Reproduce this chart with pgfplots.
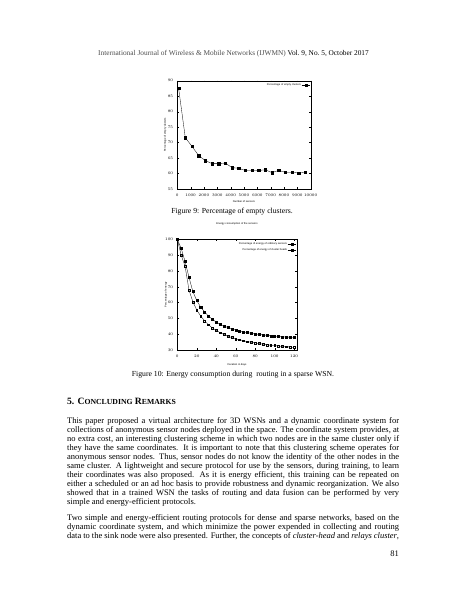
\documentclass[border=0pt]{standalone}
\usepackage{fontspec}
\setmainfont{Liberation Serif}
\newfontfamily\plotfont{Liberation Sans}
\usepackage{pgfplots}
\pgfplotsset{compat=1.18}

\newcommand\gp{\plotfont\fontsize{3.4}{4}\selectfont}
\pgfplotsset{
  gnu/.style={
    scale only axis,
    axis line style={line width=0.3pt},
    tick style={line width=0.3pt, black},
    major tick length=2bp,
    tick align=inside,
    font=\gp,
    ticklabel style={font=\gp},
    label style={font=\gp},
    xticklabel style={yshift=-2.5bp},
    yticklabel style={xshift=-2bp},
    legend style={draw=none, fill=none, font=\gp,
      at={(1,1)}, anchor=north east, inner sep=0pt,
      nodes={inner sep=0.6bp}, row sep=3.6bp, yshift=-3bp},
    legend plot pos=right,
    legend cell align=right,
    legend image code/.code={%
      \draw[mark repeat=2, mark phase=2, ##1]
        plot coordinates {(0cm,0cm) (0.2cm,0cm) (0.4cm,0cm)};},
    /pgf/number format/1000 sep={},
    scaled x ticks=false,
    every axis plot/.append style={line width=0.4pt, black},
  }
}

% one justified line of body text at a given baseline (px)
\newcommand\jline[2]{\node[anchor=base west, inner sep=0] at (67,#1)
  {\makebox[428.6bp][s]{#2}};}
\newcommand\lline[2]{\node[anchor=base west, inner sep=0] at (67,#1) {#2};}

\begin{document}
\begin{tikzpicture}
\begin{scope}[x=1.2911bp, y=-1.2911bp]
  \fill[white] (0,0) rectangle (474,613);
  \node[anchor=base, inner sep=0] at (233.5,55.5)
    {\fontsize{9.5}{11}\selectfont\color{black!70}International Journal of Wireless \& Mobile Networks (IJWMN) \color{black}Vol.~9, No.~5, October 2017};
  \node[anchor=base, inner sep=0] at (232,213)
    {\fontsize{10}{12}\selectfont Figure 9: Percentage of empty clusters.};
  \node[anchor=base, inner sep=0] at (233,376)
    {\fontsize{10}{12}\selectfont Figure 10: Energy consumption during\ \ routing in a sparse WSN.};
  \node[anchor=base west, inner sep=0] at (67,404)
    {\bfseries\fontsize{12.5}{14}\selectfont 5. C{\fontsize{10}{14}\selectfont ONCLUDING} R{\fontsize{10}{14}\selectfont EMARKS}};
  \begin{scope}[font=\fontsize{11}{12.5}\selectfont]
  \jline{423.0}{This paper proposed a virtual architecture for 3D WSNs and a dynamic coordinate system for}
  \jline{432.1}{collections of anonymous sensor nodes deployed in the space. The coordinate system provides, at}
  \jline{441.2}{no extra cost, an interesting clustering scheme in which two nodes are in the same cluster only if}
  \jline{450.3}{they have the same coordinates. It is important to note that this clustering scheme operates for}
  \jline{459.4}{anonymous sensor nodes. Thus, sensor nodes do not know the identity of the other nodes in the}
  \jline{468.5}{same cluster. A lightweight and secure protocol for use by the sensors, during training, to learn}
  \jline{477.6}{their coordinates was also proposed. As it is energy efficient, this training can be repeated on}
  \jline{486.7}{either a scheduled or an ad hoc basis to provide robustness and dynamic reorganization. We also}
  \jline{495.8}{showed that in a trained WSN the tasks of routing and data fusion can be performed by very}
  \lline{504.9}{simple and energy-efficient protocols.}
  \jline{520.4}{Two simple and energy-efficient routing protocols for dense and sparse networks, based on the}
  \jline{529.5}{dynamic coordinate system, and which minimize the power expended in collecting and routing}
  \jline{538.6}{data to the sink node were also presented. Further, the concepts of \textit{cluster-head} and \textit{relays cluster},}
  \end{scope}
  \node[anchor=base east, inner sep=0] at (399,556) {\fontsize{11}{12}\selectfont 81};
\end{scope}

\begin{axis}[gnu,
  at={(228.9bp,-244.0bp)}, anchor=south west,
  width=172.2bp, height=139.8bp,
  xmin=0, xmax=10000, ymin=55, ymax=90,
  xtick={0,1000,...,10000}, ytick={55,60,...,90},
  xlabel={Number of sensors},
  ylabel={Percentage of empty clusters},
  xlabel style={at={(axis description cs:0.5,-0.12)}, anchor=center},
  ylabel style={at={(axis description cs:-0.09,0.5)}, anchor=center},
]
\addplot[mark=square*, mark size=1.5bp] coordinates {
  (100,87.5) (600,71.6) (1100,68.8) (1600,65.8) (2100,64.2)
  (2600,63.2) (3100,63.2) (3600,63.4) (4100,61.9) (4600,61.7)
  (5100,61.0) (5600,61.1) (6100,61.0) (6600,61.2) (7100,60.3)
  (7600,61.0) (8100,60.4) (8600,60.4) (9100,60.2) (9600,60.5)};
\addlegendentry{Percentage of empty clusters}
\end{axis}

\begin{axis}[gnu,
  at={(228.9bp,-451.9bp)}, anchor=south west,
  width=154.2bp, height=142.9bp,
  xmin=0, xmax=122.7, ymin=30, ymax=100,
  xtick={0,20,...,120}, ytick={30,40,...,100},
  title={Energy consumption of the sensors},
  title style={font=\gp, at={(axis description cs:0.5,1)}, anchor=south, yshift=9bp},
  xlabel={Duration in days},
  ylabel={Percentage of energy},
  xlabel style={at={(axis description cs:0.5,-0.13)}, anchor=center},
  ylabel style={at={(axis description cs:-0.095,0.5)}, anchor=center},
]
\addplot[mark=square*, mark size=1.3bp] coordinates {
  (0,100) (4,94.3) (8,86) (12,76) (16,67) (20,61.3) (24,57.2) (28,54.1)
  (32,51.5) (36,49.4) (40,47.7) (44,46.2) (48,45.2) (52,44.2) (56,43.4)
  (60,42.7) (64,42.0) (68,41.5) (72,41.0) (76,40.6) (80,40.2) (84,39.9)
  (88,39.6) (92,39.3) (96,39.0) (100,38.8) (104,38.6) (108,38.4)
  (112,38.2) (116,38.1) (120,38.0)};
\addlegendentry{Percentage of energy of ordinary sensors}
\addplot[mark=square, mark size=1.2bp, mark options={line width=0.5pt}] coordinates {
  (0,100) (4,90) (8,83) (12,68) (16,60.5) (20,55.3) (24,51.5) (28,48.5)
  (32,46) (36,44) (40,42.4) (44,41) (48,39.8) (52,38.7) (56,37.9)
  (60,37.1) (64,36.5) (68,35.9) (72,35.3) (76,34.9) (80,34.5) (84,34.1)
  (88,33.7) (92,33.3) (96,33.0) (100,32.8) (104,32.5) (108,32.3)
  (112,32.1) (116,31.9) (120,31.7)};
\addlegendentry{Percentage of energy of cluster heads}
\end{axis}
\end{tikzpicture}
\end{document}
